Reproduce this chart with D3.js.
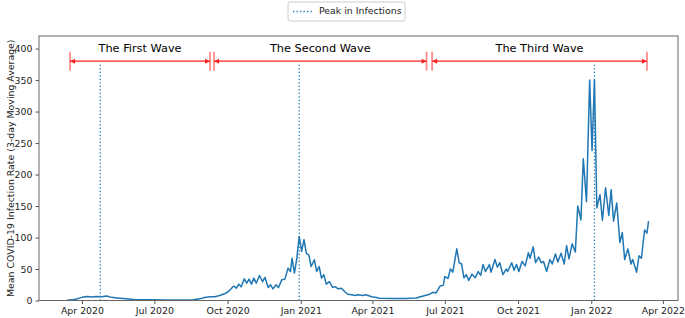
<!DOCTYPE html>
<html>
<head>
<meta charset="utf-8">
<script src="https://cdn.jsdelivr.net/npm/d3@7"></script>
<style>
  body { margin: 0; background: #fff; }
  text { font-family: "DejaVu Sans", sans-serif; }
</style>
</head>
<body>
<svg id="svg" width="685" height="318"></svg>
<script>
// infection series (3-day moving average)
var dates = [
  "2020-03-13","2020-03-19","2020-03-25","2020-04-01","2020-04-07","2020-04-13","2020-04-19","2020-04-26",
  "2020-05-02","2020-05-08","2020-05-15","2020-05-23","2020-06-05","2020-06-26","2020-07-17","2020-08-07",
  "2020-08-19","2020-08-27","2020-09-02","2020-09-09","2020-09-15","2020-09-21","2020-09-27","2020-10-02",
  "2020-10-06","2020-10-09","2020-10-12","2020-10-15","2020-10-18","2020-10-22","2020-10-25","2020-10-28",
  "2020-10-31","2020-11-03","2020-11-06","2020-11-10","2020-11-14","2020-11-17","2020-11-21","2020-11-24",
  "2020-11-27","2020-12-01","2020-12-04","2020-12-08","2020-12-12","2020-12-16","2020-12-19","2020-12-21",
  "2020-12-24","2020-12-27","2020-12-30","2021-01-02","2021-01-05","2021-01-08","2021-01-11","2021-01-14",
  "2021-01-18","2021-01-21","2021-01-24","2021-01-27","2021-01-30","2021-02-02","2021-02-06","2021-02-10",
  "2021-02-13","2021-02-17","2021-02-21","2021-02-25","2021-03-01","2021-03-06","2021-03-10","2021-03-14",
  "2021-03-20","2021-03-24","2021-03-31","2021-04-06","2021-04-10","2021-04-27","2021-05-13","2021-05-26",
  "2021-06-06","2021-06-12","2021-06-16","2021-06-20","2021-06-25","2021-06-29","2021-07-01","2021-07-05",
  "2021-07-08","2021-07-11","2021-07-16","2021-07-19","2021-07-22","2021-07-25","2021-07-28","2021-07-31",
  "2021-08-04","2021-08-08","2021-08-12","2021-08-15","2021-08-18","2021-08-21","2021-08-26","2021-08-28",
  "2021-09-02","2021-09-05","2021-09-08","2021-09-12","2021-09-16","2021-09-18","2021-09-23","2021-09-26",
  "2021-09-29","2021-10-02","2021-10-06","2021-10-10","2021-10-14","2021-10-16","2021-10-20","2021-10-23",
  "2021-10-27","2021-10-30","2021-11-02","2021-11-06","2021-11-10","2021-11-13","2021-11-17","2021-11-20",
  "2021-11-24","2021-11-28","2021-12-01","2021-12-04","2021-12-08","2021-12-12","2021-12-15","2021-12-19",
  "2021-12-22","2021-12-26","2021-12-30","2022-01-02","2022-01-05","2022-01-08","2022-01-12","2022-01-15",
  "2022-01-19","2022-01-23","2022-01-26","2022-01-29","2022-02-02","2022-02-06","2022-02-09","2022-02-12",
  "2022-02-16","2022-02-20","2022-02-22","2022-02-27","2022-03-02","2022-03-05","2022-03-09","2022-03-12",
  "2022-03-14"
];
var rates = [
  0.5, 1, 2.5, 5, 6.3, 5.5, 6.5, 6,
  7, 5, 4, 3, 1.5, 1, 0.8, 0.8,
  1.2, 2.6, 4.8, 5.8, 6, 8, 10.6, 14.3,
  19.6, 23, 19.6, 26, 21.7, 34.4, 27.5, 34,
  26, 35.5, 27.5, 39.7, 30, 36.6, 20.7, 25,
  18.5, 25, 20.7, 32.8, 33.9, 51.4, 46, 67,
  43.5, 67, 101.8, 78, 96.5, 75, 72.6, 54,
  64.7, 46, 54, 35.5, 40.8, 26, 30, 20.7,
  22, 18.5, 19.6, 14.3, 10, 9, 8, 9,
  8, 9, 6, 4.8, 3.7, 3, 3, 4,
  8, 10, 13, 12, 23, 24, 38, 35,
  50, 45, 82, 60, 58, 36, 41, 32,
  42, 36, 46, 40, 57, 46, 57, 45,
  65, 53, 60, 41, 50, 46, 60, 48,
  57, 46, 62, 55, 76, 67, 85, 60,
  69, 60, 62, 46, 65, 58, 74, 61,
  75, 58, 87, 66, 90, 77, 150, 128,
  225, 157, 350, 238, 350, 147, 168, 127,
  179, 135, 176, 126, 155, 92, 108, 65,
  82, 58, 65, 45, 71, 67, 112, 107,
  126
];

var peakDates = ["2020-04-24", "2020-12-30", "2022-01-05"];

var waveNames = ["The First Wave", "The Second Wave", "The Third Wave"];
var waveStarts = ["2020-03-17", "2020-09-14", "2021-06-15"];
var waveEnds = ["2020-09-09", "2021-06-08", "2022-03-12"];

var xTicks = ["2020-04-01","2020-07-01","2020-10-01","2021-01-01","2021-04-01","2021-07-01","2021-10-01","2022-01-01","2022-04-01"];
var yTicks = [0, 50, 100, 150, 200, 250, 300, 350, 400];

var parse = d3.utcParse("%Y-%m-%d");
var svg = d3.select("#svg"),
    margin = {top: 36, right: 7, bottom: 17.5, left: 39},
    width = +svg.attr("width") - margin.left - margin.right,
    height = +svg.attr("height") - margin.top - margin.bottom;

var x = d3.scaleUtc().domain([parse("2020-02-07"), parse("2022-04-20")]).range([0, width]);
var y = d3.scaleLinear().domain([0, 420]).range([height, 0]);

var blue = "#1f77b4";
var g = svg.append("g").attr("transform", "translate(" + margin.left + "," + margin.top + ")");

// peak lines
g.selectAll(".peak").data(peakDates).enter().append("line")
    .attr("class", "peak")
    .attr("x1", d => x(parse(d))).attr("x2", d => x(parse(d)))
    .attr("y1", y(0)).attr("y2", y(378))
    .style("stroke", blue).style("stroke-width", 1.3)
    .style("stroke-dasharray", "1.3,2.2");

// main line
var line = d3.line()
    .x(d => x(d[0]))
    .y(d => y(d[1]));

g.append("path")
    .datum(d3.zip(dates.map(parse), rates))
    .attr("d", line)
    .style("fill", "none")
    .style("stroke", blue)
    .style("stroke-width", 1.5)
    .style("stroke-linejoin", "round");

// wave annotations
var ay = y(380);
waveNames.forEach(function(name, i) {
    var x0 = x(parse(waveStarts[i])), x1 = x(parse(waveEnds[i]));
    g.append("line")
        .attr("x1", x0).attr("x2", x1).attr("y1", ay).attr("y2", ay)
        .style("stroke", "#ff2020").style("stroke-width", 1.2);
    [x0, x1].forEach(function(xx, k) {
        var dir = k == 0 ? 1 : -1;
        g.append("line")
            .attr("x1", xx).attr("x2", xx).attr("y1", ay - 9.5).attr("y2", ay + 9.5)
            .style("stroke", "#ff4040").style("stroke-width", 1.8).style("opacity", 0.6);
        g.append("path")
            .attr("d", "M" + xx + "," + ay + "L" + (xx + dir * 5) + "," + (ay - 2.5) + "L" + (xx + dir * 5) + "," + (ay + 2.5) + "Z")
            .style("fill", "#ff2020");
    });
    g.append("text")
        .attr("x", (x0 + x1) / 2)
        .attr("y", y(395))
        .style("text-anchor", "middle")
        .style("font-size", "11.3px")
        .style("fill", "#000")
        .text(name);
});

// axes
var xAxis = d3.axisBottom(x)
    .tickValues(xTicks.map(parse))
    .tickFormat(d3.utcFormat("%b %Y"))
    .tickSize(3.5).tickPadding(3);
var yAxis = d3.axisLeft(y).tickValues(yTicks).tickSize(3.5).tickPadding(3);

var gx = g.append("g").attr("transform", "translate(0," + height + ")").call(xAxis);
var gy = g.append("g").call(yAxis);
[gx, gy].forEach(function(a) {
    a.select(".domain").remove();
    a.selectAll("line").style("stroke", "#555");
    a.selectAll("text").style("font-size", "9.4px").style("fill", "#222").style("font-family", "DejaVu Sans");
});

// frame
g.append("rect")
    .attr("width", width).attr("height", height)
    .style("fill", "none").style("stroke", "#666").style("stroke-width", 1);

// y label
svg.append("text")
    .attr("transform", "translate(11," + (margin.top + height / 2) + ") rotate(-90)")
    .style("text-anchor", "middle")
    .style("dominant-baseline", "middle")
    .style("font-size", "9.4px")
    .style("fill", "#222")
    .text("Mean COVID-19 Infection Rate (3-day Moving Average)");

// legend
var lg = svg.append("g").attr("transform", "translate(288,2)");
lg.append("rect")
    .attr("width", 117).attr("height", 19).attr("rx", 2)
    .style("fill", "#fff").style("stroke", "#ccc").style("stroke-width", 1);
lg.append("line")
    .attr("x1", 5).attr("x2", 25).attr("y1", 9.5).attr("y2", 9.5)
    .style("stroke", blue).style("stroke-width", 1.3).style("stroke-dasharray", "1.3,2.2");
lg.append("text")
    .attr("x", 31).attr("y", 9.5)
    .style("dominant-baseline", "middle")
    .style("font-size", "9.4px")
    .style("fill", "#222")
    .text("Peak in Infections");
</script>
</body>
</html>
